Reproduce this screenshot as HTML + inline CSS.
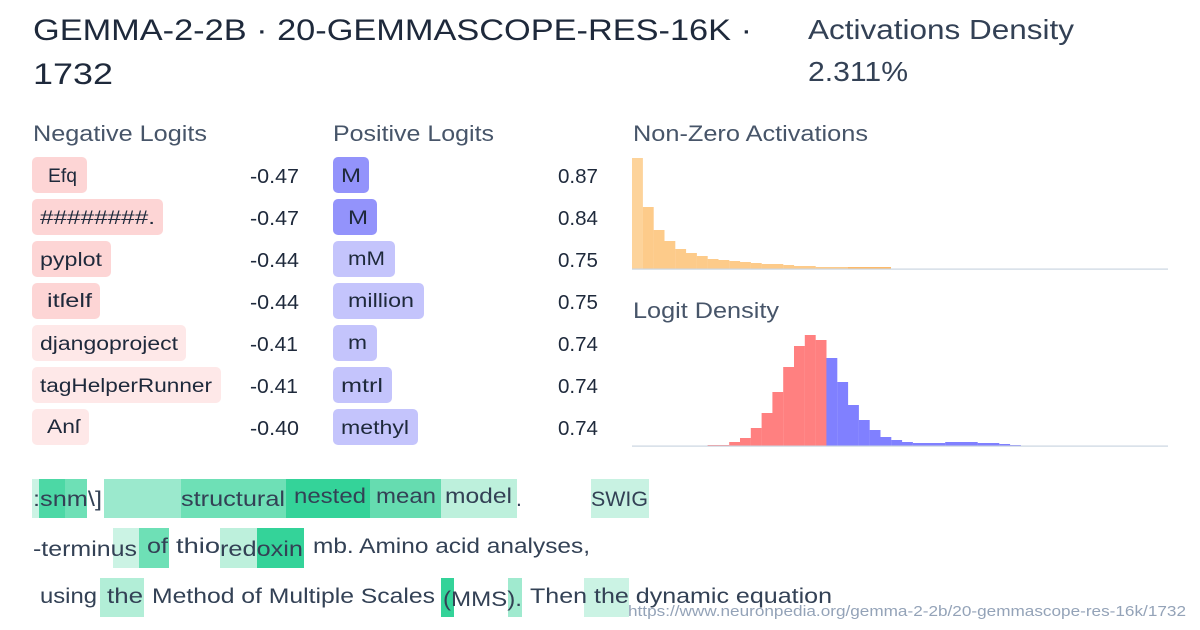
<!DOCTYPE html>
<html><head><meta charset="utf-8"><style>html,body{margin:0;padding:0;background:#fff;}svg{display:block}</style></head>
<body>
<svg width="1200" height="630" xmlns="http://www.w3.org/2000/svg" font-family="'Liberation Sans', sans-serif">
<g fill="#1e293b">
<text x="33" y="40" font-size="30" textLength="719" lengthAdjust="spacingAndGlyphs">GEMMA-2-2B · 20-GEMMASCOPE-RES-16K ·</text>
<text x="33" y="84" font-size="30" textLength="80" lengthAdjust="spacingAndGlyphs">1732</text>
</g>
<g fill="#334155">
<text x="808" y="39" font-size="28" textLength="266" lengthAdjust="spacingAndGlyphs">Activations Density</text>
<text x="808" y="81" font-size="28" textLength="100" lengthAdjust="spacingAndGlyphs">2.311%</text>
</g>
<g fill="#475569" font-size="22">
<text x="33" y="141" textLength="174" lengthAdjust="spacingAndGlyphs">Negative Logits</text>
<text x="333" y="141" textLength="161" lengthAdjust="spacingAndGlyphs">Positive Logits</text>
<text x="633" y="141" textLength="235" lengthAdjust="spacingAndGlyphs">Non-Zero Activations</text>
<text x="633" y="318" textLength="146" lengthAdjust="spacingAndGlyphs">Logit Density</text>
</g>
<g>
<rect x="32" y="157" width="55" height="36" rx="5" fill="#fdd5d5"/>
<rect x="32" y="199" width="131" height="36" rx="5" fill="#fdd5d5"/>
<rect x="32" y="241" width="79" height="36" rx="5" fill="#fdd5d5"/>
<rect x="32" y="283" width="68" height="36" rx="5" fill="#fdd5d5"/>
<rect x="32" y="325" width="154" height="36" rx="5" fill="#fee8e8"/>
<rect x="32" y="367" width="189" height="36" rx="5" fill="#fee8e8"/>
<rect x="32" y="409" width="57" height="36" rx="5" fill="#fee8e8"/>
<rect x="333" y="157" width="36" height="36" rx="5" fill="#9393fb"/>
<rect x="333" y="199" width="44" height="36" rx="5" fill="#9393fb"/>
<rect x="333" y="241" width="62" height="36" rx="5" fill="#c4c4fc"/>
<rect x="333" y="283" width="91" height="36" rx="5" fill="#c4c4fc"/>
<rect x="333" y="325" width="44" height="36" rx="5" fill="#c4c4fc"/>
<rect x="333" y="367" width="59" height="36" rx="5" fill="#c4c4fc"/>
<rect x="333" y="409" width="85" height="36" rx="5" fill="#c4c4fc"/>
</g>
<g fill="#1e293b" font-size="19">
<text x="48" y="182" textLength="29" lengthAdjust="spacingAndGlyphs">Efq</text>
<text x="40" y="224" textLength="115" lengthAdjust="spacingAndGlyphs">########.</text>
<text x="40" y="266" textLength="62" lengthAdjust="spacingAndGlyphs">pyplot</text>
<text x="47" y="307" textLength="45" lengthAdjust="spacingAndGlyphs">itſelf</text>
<text x="40" y="350" textLength="138" lengthAdjust="spacingAndGlyphs">djangoproject</text>
<text x="40" y="392" textLength="172" lengthAdjust="spacingAndGlyphs">tagHelperRunner</text>
<text x="47" y="433" textLength="33" lengthAdjust="spacingAndGlyphs">Anſ</text>
<text x="341" y="182" textLength="20" lengthAdjust="spacingAndGlyphs">M</text>
<text x="348" y="224" textLength="20" lengthAdjust="spacingAndGlyphs">M</text>
<text x="348" y="265" textLength="37" lengthAdjust="spacingAndGlyphs">mM</text>
<text x="348" y="307" textLength="66" lengthAdjust="spacingAndGlyphs">million</text>
<text x="348" y="349" textLength="19" lengthAdjust="spacingAndGlyphs">m</text>
<text x="341" y="392" textLength="42" lengthAdjust="spacingAndGlyphs">mtrl</text>
<text x="341" y="434" textLength="68" lengthAdjust="spacingAndGlyphs">methyl</text>
</g>
<g fill="#1e293b" font-size="20">
<text x="250" y="183" textLength="49" lengthAdjust="spacingAndGlyphs">-0.47</text>
<text x="250" y="225" textLength="49" lengthAdjust="spacingAndGlyphs">-0.47</text>
<text x="250" y="267" textLength="49" lengthAdjust="spacingAndGlyphs">-0.44</text>
<text x="250" y="309" textLength="49" lengthAdjust="spacingAndGlyphs">-0.44</text>
<text x="250" y="351" textLength="48" lengthAdjust="spacingAndGlyphs">-0.41</text>
<text x="250" y="393" textLength="48" lengthAdjust="spacingAndGlyphs">-0.41</text>
<text x="250" y="435" textLength="49" lengthAdjust="spacingAndGlyphs">-0.40</text>
<text x="558" y="183" textLength="40" lengthAdjust="spacingAndGlyphs">0.87</text>
<text x="558" y="225" textLength="40" lengthAdjust="spacingAndGlyphs">0.84</text>
<text x="558" y="267" textLength="40" lengthAdjust="spacingAndGlyphs">0.75</text>
<text x="558" y="309" textLength="40" lengthAdjust="spacingAndGlyphs">0.75</text>
<text x="558" y="351" textLength="40" lengthAdjust="spacingAndGlyphs">0.74</text>
<text x="558" y="393" textLength="40" lengthAdjust="spacingAndGlyphs">0.74</text>
<text x="558" y="435" textLength="40" lengthAdjust="spacingAndGlyphs">0.74</text>
</g>
<!-- activation histogram (bar width 10.8) -->
<g fill="#fdcb8a">
<rect x="632" y="158" width="10.9" height="111" fill="#fdd39a"/>
<rect x="642.8" y="207" width="10.9" height="62"/>
<rect x="653.6" y="230" width="10.9" height="39"/>
<rect x="664.4" y="241" width="10.9" height="28"/>
<rect x="675.2" y="249" width="10.9" height="20"/>
<rect x="686" y="253" width="10.9" height="16"/>
<rect x="696.8" y="256" width="10.9" height="13"/>
<rect x="707.6" y="259" width="10.9" height="10"/>
<rect x="718.4" y="260" width="10.9" height="9"/>
<rect x="729.2" y="261" width="10.9" height="8"/>
<rect x="740" y="262" width="10.9" height="7"/>
<rect x="750.8" y="263" width="10.9" height="6"/>
<rect x="761.6" y="264" width="21.7" height="5"/>
<rect x="783.2" y="265" width="10.9" height="4"/>
<rect x="794" y="266" width="21.7" height="3"/>
<rect x="815.6" y="267" width="32.5" height="2"/>
<rect x="848" y="267" width="43" height="2" fill="#fdba6a"/>
</g>
<rect x="632" y="268.5" width="536" height="1.2" fill="#cbd5e1"/>
<!-- logit density -->
<g fill="#ff8080">
<rect x="707.6" y="445" width="10.9" height="1"/>
<rect x="718.4" y="445" width="10.9" height="1"/>
<rect x="729.2" y="442" width="10.9" height="4"/>
<rect x="740" y="438" width="10.9" height="8"/>
<rect x="750.8" y="428" width="10.9" height="18"/>
<rect x="761.6" y="413" width="10.9" height="33"/>
<rect x="772.4" y="392" width="10.9" height="54"/>
<rect x="783.2" y="367" width="10.9" height="79"/>
<rect x="794" y="346" width="10.9" height="100"/>
<rect x="804.8" y="335" width="10.9" height="111"/>
<rect x="815.6" y="340" width="10.9" height="106"/>
</g>
<g fill="#8080ff">
<rect x="826.4" y="358" width="10.9" height="88"/>
<rect x="837.2" y="382" width="10.9" height="64"/>
<rect x="848" y="405" width="10.9" height="41"/>
<rect x="858.8" y="420" width="10.9" height="26"/>
<rect x="869.6" y="430" width="10.9" height="16"/>
<rect x="880.4" y="437" width="10.9" height="9"/>
<rect x="891.2" y="440" width="10.9" height="6"/>
<rect x="902" y="442" width="10.9" height="4"/>
<rect x="912.8" y="443" width="32.5" height="3"/>
<rect x="945.2" y="442" width="32.5" height="4"/>
<rect x="977.6" y="443" width="21.7" height="3"/>
<rect x="999.2" y="444" width="10.9" height="2"/>
<rect x="1010" y="445" width="10.9" height="1"/>
</g>
<rect x="632" y="445.5" width="536" height="1.2" fill="#cbd5e1"/>
<!-- token highlights -->
<g>
<rect x="32" y="479" width="7" height="39" fill="#cbf3e4"/>
<rect x="39" y="479" width="26" height="39" fill="#4cd8a5"/>
<rect x="65" y="479" width="22" height="39" fill="#6ee0b6"/>
<rect x="104" y="479" width="77" height="39" fill="#9be9cd"/>
<rect x="181" y="479" width="105" height="39" fill="#6ee0b6"/>
<rect x="286" y="479" width="84" height="39" fill="#34d399"/>
<rect x="370" y="479" width="71" height="39" fill="#66dcb0"/>
<rect x="441" y="479" width="76" height="39" fill="#bdf0dc"/>
<rect x="591" y="479" width="58" height="39" fill="#c8f2e2"/>
<rect x="113" y="528" width="26" height="40" fill="#cbf3e4"/>
<rect x="139" y="528" width="30" height="40" fill="#6ee0b6"/>
<rect x="220" y="528" width="37" height="40" fill="#bdf0dc"/>
<rect x="257" y="528" width="47" height="40" fill="#34d399"/>
<rect x="100" y="578" width="44" height="39" fill="#b2eed7"/>
<rect x="441" y="578" width="13" height="39" fill="#34d399"/>
<rect x="508" y="578" width="14" height="39" fill="#a0eacf"/>
<rect x="584" y="578" width="45" height="39" fill="#cbf3e4"/>
</g>
<g fill="#334155" font-size="21">
<text x="33" y="506" textLength="69" lengthAdjust="spacingAndGlyphs">:snm\]</text>
<text x="181" y="506" textLength="104" lengthAdjust="spacingAndGlyphs">structural</text>
<text x="294" y="503" textLength="72" lengthAdjust="spacingAndGlyphs">nested</text>
<text x="376" y="503" textLength="60" lengthAdjust="spacingAndGlyphs">mean</text>
<text x="445" y="503" textLength="67" lengthAdjust="spacingAndGlyphs">model</text>
<text x="516" y="506">.</text>
<text x="591" y="506" textLength="57" lengthAdjust="spacingAndGlyphs">SWIG</text>
<text x="33" y="556" textLength="104" lengthAdjust="spacingAndGlyphs">-terminus</text>
<text x="147" y="553" textLength="21" lengthAdjust="spacingAndGlyphs">of</text>
<text x="176" y="553" textLength="44" lengthAdjust="spacingAndGlyphs">thio</text>
<text x="220" y="556" textLength="83" lengthAdjust="spacingAndGlyphs">redoxin</text>
<text x="313" y="553" textLength="277" lengthAdjust="spacingAndGlyphs">mb. Amino acid analyses,</text>
<text x="40" y="603" textLength="57" lengthAdjust="spacingAndGlyphs">using</text>
<text x="107" y="603" textLength="36" lengthAdjust="spacingAndGlyphs">the</text>
<text x="152" y="603" textLength="283" lengthAdjust="spacingAndGlyphs">Method of Multiple Scales</text>
<text x="443" y="606" textLength="79" lengthAdjust="spacingAndGlyphs">(MMS).</text>
<text x="530" y="603" textLength="302" lengthAdjust="spacingAndGlyphs">Then the dynamic equation</text>
</g>
<text x="628" y="616" font-size="15" fill="#94a3b8" textLength="558" lengthAdjust="spacingAndGlyphs">https://www.neuronpedia.org/gemma-2-2b/20-gemmascope-res-16k/1732</text>
</svg>
</body></html>
